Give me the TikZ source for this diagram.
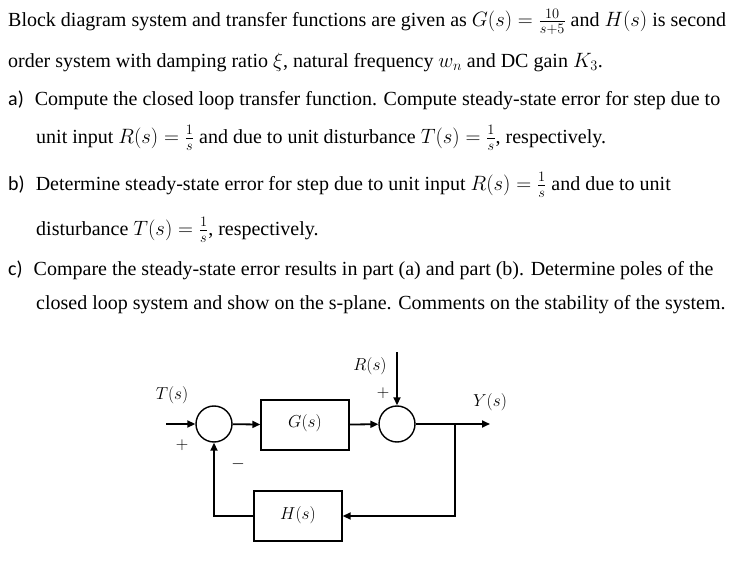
\documentclass[tikz,border=0pt]{standalone}
\usepackage{fontspec}
\setmainfont{Liberation Serif}
\newfontfamily\lab{Carlito}
\usetikzlibrary{arrows.meta}
\begin{document}
\begin{tikzpicture}[x=1pt,y=-1pt,
  txt/.style={anchor=west,inner sep=0pt,font=\fontsize{20}{22}\selectfont},
  blk/.style={draw,line width=1.4pt,minimum width=88pt,minimum height=50pt,inner sep=0pt,font=\fontsize{17}{19}\selectfont},
  sumn/.style={draw,circle,line width=1.4pt,minimum size=36pt,inner sep=0pt},
  sig/.style={line width=1.8pt,-{Triangle[length=8pt,width=7pt]}},
  ml/.style={font=\fontsize{17}{19}\selectfont}]
\useasboundingbox (0,0) rectangle (753,572);
\node[txt] (l1) at (8,22) {Block diagram system and transfer functions are given as $G(s)=\frac{10}{s+5}$ and $H(s)$ is second};
\node[txt] (l2) at (8,62) {order system with damping ratio $\xi$, natural frequency $w_n$ and DC gain $K_3$.};
\node[txt] (a) at (8,100) {{\lab a)}\hspace{11pt}Compute the closed loop transfer function. Compute steady-state error for step due to};
\node[txt] (a2) at (36,138) {unit input $R(s)=\frac{1}{s}$ and due to unit disturbance $T(s)=\frac{1}{s}$, respectively.};
\node[txt] (b) at (8,185) {{\lab b)}\hspace{11pt}Determine steady-state error for step due to unit input $R(s)=\frac{1}{s}$ and due to unit};
\node[txt] (b2) at (36,230) {disturbance $T(s)=\frac{1}{s}$, respectively.};
\node[txt] (c) at (8,270) {{\lab c)}\hspace{11pt}Compare the steady-state error results in part (a) and part (b). Determine poles of the};
\node[txt] (c2) at (36,305) {closed loop system and show on the s-plane. Comments on the stability of the system.};
\node[sumn] (s1) at (214,424) {};
\node[sumn] (s2) at (397,424) {};
\node[blk] (G) at (305,425) {\raisebox{8pt}{$G(s)$}};
\node[blk] (H) at (298,516) {\raisebox{6pt}{$H(s)$}};
\coordinate (tin) at (166,424);
\coordinate (rin) at (397,352);
\coordinate (yout) at (490,424);
\coordinate (br) at (455,424);
\draw[sig] (tin) -- (s1);
\draw[sig] (s1) -- (G);
\draw[sig] (G) -- (s2);
\draw[sig] (rin) -- (s2);
\draw[sig] (s2) -- (yout);
\draw[sig] (br) |- (H);
\draw[sig] (H.west) -| (s1.south);
\node[ml] (tl) at (172,395) {$T(s)$};
\node[ml] (rl) at (370,366) {$R(s)$};
\node[ml] (yl) at (490,402) {$Y(s)$};
\node[ml] (p1) at (383,393) {$+$};
\node[ml] (p2) at (182,445) {$+$};
\node[ml] (m1) at (238,464) {$-$};
\end{tikzpicture}
\end{document}
